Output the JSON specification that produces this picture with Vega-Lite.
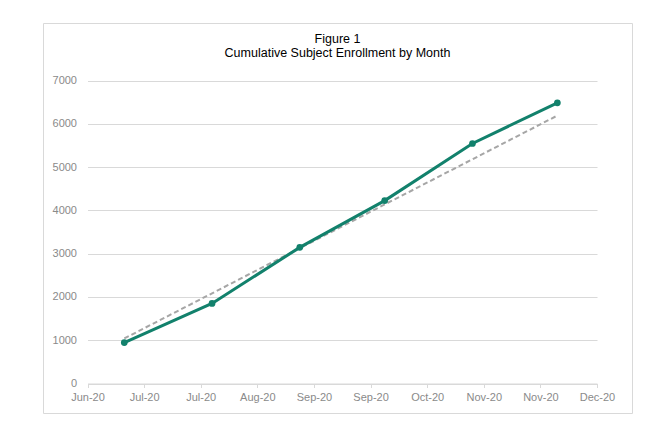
{
  "$schema": "https://vega.github.io/schema/vega-lite/v6.json",
  "width": 589,
  "height": 390,
  "autosize": "none",
  "padding": {"left": 43, "top": 23, "right": 27, "bottom": 19},
  "background": "white",
  "title": {
    "text": ["Figure 1", "Cumulative Subject Enrollment by Month"],
    "anchor": "middle",
    "frame": "group",
    "fontSize": 12.5,
    "fontWeight": "normal",
    "color": "#000000",
    "lineHeight": 14,
    "offset": -36
  },
  "data": {
    "values": [
      {"month": "2020-07-01", "actual": 945, "target": 1040},
      {"month": "2020-08-01", "actual": 1850, "target": 2083},
      {"month": "2020-09-01", "actual": 3145, "target": 3127},
      {"month": "2020-10-01", "actual": 4225, "target": 4137},
      {"month": "2020-11-01", "actual": 5545, "target": 5180},
      {"month": "2020-12-01", "actual": 6485, "target": 6190}
    ]
  },
  "encoding": {
    "x": {
      "field": "month",
      "type": "temporal",
      "title": null,
      "scale": {
        "type": "utc",
        "domain": [
          {"year": 2020, "month": "Jun", "date": 18, "utc": true},
          {"year": 2020, "month": "Dec", "date": 15, "utc": true}
        ],
        "range": [44.5, 554]
      },
      "axis": {
        "values": [
          {"year": 2020, "month": "Jun", "date": 18, "utc": true},
          {"year": 2020, "month": "Jul", "date": 8, "utc": true},
          {"year": 2020, "month": "Jul", "date": 28, "utc": true},
          {"year": 2020, "month": "Aug", "date": 17, "utc": true},
          {"year": 2020, "month": "Sep", "date": 6, "utc": true},
          {"year": 2020, "month": "Sep", "date": 26, "utc": true},
          {"year": 2020, "month": "Oct", "date": 16, "utc": true},
          {"year": 2020, "month": "Nov", "date": 5, "utc": true},
          {"year": 2020, "month": "Nov", "date": 25, "utc": true},
          {"year": 2020, "month": "Dec", "date": 15, "utc": true}
        ],
        "format": "%b-%y",
        "offset": -29.5,
        "grid": false,
        "domainColor": "#d9d9d9",
        "tickColor": "#d9d9d9",
        "tickSize": 4,
        "labelPadding": 4,
        "labelColor": "#8a8a8a",
        "labelFontSize": 11,
        "labelFlush": false,
        "labelOverlap": false
      }
    }
  },
  "layer": [
    {
      "mark": {"type": "line", "color": "#a6a6a6", "strokeWidth": 2, "strokeDash": [5, 3]},
      "encoding": {
        "y": {
          "field": "target",
          "type": "quantitative",
          "title": null,
          "scale": {"domain": [0, 7000], "range": [360.5, 57.5]},
          "axis": {
            "values": [0, 1000, 2000, 3000, 4000, 5000, 6000, 7000],
            "format": "d",
            "offset": -44.5,
            "domain": false,
            "ticks": false,
            "labelPadding": 11,
            "grid": true,
            "gridColor": "#d9d9d9",
            "labelColor": "#8a8a8a",
            "labelFontSize": 11
          }
        }
      }
    },
    {
      "mark": {
        "type": "line",
        "color": "#12816c",
        "strokeWidth": 3,
        "point": {"filled": true, "size": 45, "color": "#12816c"}
      },
      "encoding": {
        "y": {"field": "actual", "type": "quantitative", "title": null}
      }
    }
  ],
  "config": {
    "font": "Liberation Sans",
    "view": {"stroke": "#d9d9d9", "strokeWidth": 1}
  }
}
